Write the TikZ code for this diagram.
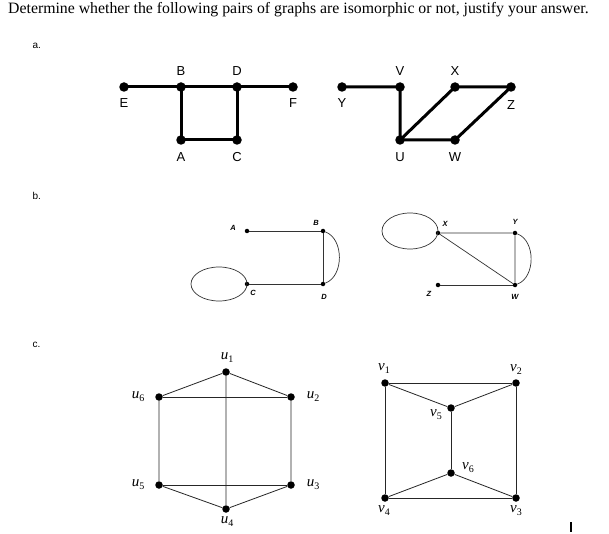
\documentclass[tikz,border=0pt]{standalone}
\usepackage{fontspec}
\setmainfont{Liberation Serif}
\newfontfamily\lsans{Liberation Sans}
\newcommand{\lb}[2]{\textit{#1}\raisebox{-3pt}{\fontsize{10}{10}\selectfont #2}}
\begin{document}
\begin{tikzpicture}[x=1pt,y=-1pt,
  adot/.style={circle,fill=black,inner sep=0pt,minimum size=9.5pt},
  bdot/.style={circle,fill=black,inner sep=0pt,minimum size=4.5pt},
  cdot/.style={circle,fill=black,inner sep=0pt,minimum size=7.5pt},
  aedge/.style={line width=3pt},
  bedge/.style={line width=0.7pt,gray!40!black},
  cedge/.style={line width=0.8pt,gray!30!black},
  alab/.style={font=\lsans\fontsize{13}{13}\selectfont},
  blab/.style={font=\lsans\bfseries\itshape\fontsize{7.5}{8}\selectfont},
  clab/.style={font=\fontsize{15}{15}\selectfont},
  hlab/.style={font=\lsans\fontsize{10}{10}\selectfont,anchor=west}]
\useasboundingbox[fill=white] (0,0) rectangle (609,534);
\node[anchor=west,font=\fontsize{15.8}{16}\selectfont,inner sep=0pt] (title) at (8,10) {Determine whether the following pairs of graphs are isomorphic or not, justify your answer.};
\node[hlab] (la) at (29,46) {a.};
\node[hlab] (lb) at (29,196) {b.};
\node[hlab] (lc) at (29,345) {c.};
% a left
\node[adot] (E) at (124,87) {}; \node[adot] (B) at (181,87) {};
\node[adot] (D) at (237,87) {}; \node[adot] (F) at (293,87) {};
\node[adot] (A) at (181,140) {}; \node[adot] (C) at (237,140) {};
\draw[aedge] (E.center)--(B.center)--(D.center)--(F.center);
\draw[aedge] (B.center)--(A.center)--(C.center)--(D.center);
\node[alab] at (181,71) {B}; \node[alab] at (237,71) {D};
\node[alab] at (124,103) {E}; \node[alab] at (293,103) {F};
\node[alab] at (181,157) {A}; \node[alab] at (237,157) {C};
% a right
\node[adot] (Y) at (342,87) {}; \node[adot] (V) at (400,87) {};
\node[adot] (X) at (455,87) {}; \node[adot] (Z) at (511,87) {};
\node[adot] (U) at (400,140) {}; \node[adot] (W) at (455,140) {};
\draw[aedge] (Y.center)--(V.center)--(U.center)--(X.center)--(Z.center)--(W.center)--(U.center);
\node[alab] at (400,71) {V}; \node[alab] at (455,71) {X};
\node[alab] at (342,103) {Y}; \node[alab] at (511,105) {Z};
\node[alab] at (400,157) {U}; \node[alab] at (455,157) {W};
% b left
\node[bdot] (bA) at (247,231) {}; \node[bdot] (bB) at (323,231) {};
\node[bdot] (bC) at (247,284) {}; \node[bdot] (bD) at (323,284) {};
\draw[bedge] (bA)--(bB)--(bD)--(bC);
\draw[bedge] (bB) to[out=-20,in=20] (bD);
\draw[bedge] ([xshift=-28pt]bC.center) ellipse [x radius=28, y radius=17];
\node[blab] at (233,228) {A}; \node[blab] at (316,223) {B};
\node[blab] at (253,293) {C}; \node[blab] at (324,297) {D};
% b right
\node[bdot] (bX) at (438,233) {}; \node[bdot] (bY) at (515,233) {};
\node[bdot] (bZ) at (438,285) {}; \node[bdot] (bW) at (515,285) {};
\draw[bedge] (bX)--(bY)--(bW)--(bX); \draw[bedge] (bZ)--(bW);
\draw[bedge] (bY) to[out=-20,in=20] (bW);
\draw[bedge] ([xshift=-28pt,yshift=2pt]bX.center) ellipse [x radius=28, y radius=18];
\node[blab] at (445,224) {X}; \node[blab] at (515,222) {Y};
\node[blab] at (429,294) {Z}; \node[blab] at (515,297) {W};
% c left
\node[cdot] (u1) at (226,372) {}; \node[cdot] (u2) at (291,397) {};
\node[cdot] (u3) at (291,485) {}; \node[cdot] (u4) at (226,509) {};
\node[cdot] (u5) at (159,485) {}; \node[cdot] (u6) at (159,397) {};
\draw[cedge] (u1)--(u2)--(u3)--(u4)--(u5)--(u6)--(u1)--(u4);
\draw[cedge] (u6)--(u2); \draw[cedge] (u5)--(u3);
\node[clab] at (227,358) {\lb{u}{1}}; \node[clab] at (313,397) {\lb{u}{2}};
\node[clab] at (313,485) {\lb{u}{3}}; \node[clab] at (227,522) {\lb{u}{4}};
\node[clab] at (138,485) {\lb{u}{5}}; \node[clab] at (138,397) {\lb{u}{6}};
% c right
\node[cdot] (v1) at (385,383) {}; \node[cdot] (v2) at (516,383) {};
\node[cdot] (v3) at (516,498) {}; \node[cdot] (v4) at (385,498) {};
\node[cdot] (v5) at (451,408) {}; \node[cdot] (v6) at (451,473) {};
\draw[cedge] (v1)--(v2)--(v3)--(v4)--(v1);
\draw[cedge] (v1)--(v5)--(v2); \draw[cedge] (v5)--(v6); \draw[cedge] (v4)--(v6)--(v3);
\node[clab] at (384,369) {\lb{v}{1}}; \node[clab] at (516,370) {\lb{v}{2}};
\node[clab] at (516,511) {\lb{v}{3}}; \node[clab] at (384,511) {\lb{v}{4}};
\node[clab] at (436,415) {\lb{v}{5}}; \node[clab] at (468,468) {\lb{v}{6}};
\coordinate (c1) at (571,522); \coordinate (c2) at (571,532);
\draw[line width=1.2pt] (c1)--(c2);
\end{tikzpicture}
\end{document}
